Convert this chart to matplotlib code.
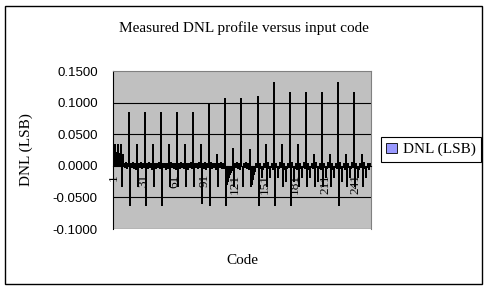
'''
Perfil DNL medido contra el código de entrada (gráfica estilo Excel)
'''
import matplotlib
matplotlib.use("Agg")
import matplotlib.pyplot as plt
from matplotlib.patches import Patch, Rectangle

# valores DNL (LSB) para los códigos 1..256, en bloques de 16
dnl = [
    0.020, 0.034, 0.020, 0.022, 0.034, 0.018, 0.020, 0.034, -0.033, 0.019, 0.005, -0.004, 0.006, -0.005, 0.004, 0.085,
    -0.064, 0.005, -0.004, 0.006, -0.005, 0.004, -0.006, 0.034, -0.033, 0.005, -0.004, 0.006, -0.005, 0.004, -0.003, 0.085,
    -0.064, 0.004, -0.005, 0.006, -0.004, 0.005, -0.006, 0.034, -0.033, 0.004, -0.005, 0.005, -0.004, 0.006, -0.005, 0.085,
    -0.064, 0.005, -0.004, 0.005, -0.006, 0.004, -0.005, 0.034, -0.033, 0.006, -0.004, 0.005, -0.005, 0.004, -0.006, 0.085,
    -0.033, 0.004, -0.005, 0.006, -0.004, 0.005, -0.005, 0.034, -0.033, 0.005, -0.006, 0.004, -0.004, 0.006, -0.005, 0.085,
    -0.033, 0.005, -0.004, 0.004, -0.005, 0.006, -0.004, 0.034, -0.060, 0.004, -0.005, 0.006, -0.006, 0.005, -0.004, 0.100,
    -0.064, 0.006, -0.005, 0.004, -0.004, 0.005, -0.006, 0.019, -0.033, 0.005, -0.004, 0.006, -0.005, 0.004, -0.005, 0.108,
    -0.064, -0.030, -0.025, -0.020, -0.015, -0.011, -0.008, 0.028, -0.033, 0.005, -0.004, 0.006, -0.005, 0.004, -0.006, 0.108,
    -0.033, 0.005, -0.004, 0.006, -0.005, 0.004, -0.006, 0.026, -0.033, -0.030, -0.022, -0.015, -0.010, 0.005, -0.004, 0.110,
    -0.064, 0.004, -0.005, -0.020, -0.006, 0.005, -0.004, 0.034, -0.033, 0.006, -0.005, -0.020, -0.004, 0.005, -0.006, 0.133,
    -0.064, 0.005, -0.004, -0.020, -0.005, 0.006, -0.004, 0.034, -0.033, 0.004, -0.006, -0.025, -0.005, 0.004, -0.004, 0.117,
    -0.064, 0.006, -0.004, -0.025, -0.005, 0.004, -0.006, 0.034, -0.033, 0.005, -0.005, -0.020, -0.004, 0.006, -0.005, 0.117,
    -0.033, 0.004, -0.006, -0.020, -0.004, 0.005, -0.005, 0.019, -0.033, 0.006, -0.004, -0.025, -0.005, 0.004, -0.006, 0.117,
    -0.033, 0.005, -0.004, -0.020, -0.005, 0.006, -0.004, 0.019, -0.033, 0.004, -0.006, -0.020, -0.004, 0.005, -0.005, 0.133,
    -0.064, 0.006, -0.005, -0.025, -0.004, 0.004, -0.006, 0.019, -0.033, 0.005, -0.004, -0.020, -0.005, 0.006, -0.004, 0.117,
    -0.033, 0.004, -0.005, -0.020, -0.006, 0.005, -0.004, 0.019, -0.033, 0.006, -0.005, -0.020, -0.004, 0.005, -0.006, 0.005,
]
codigos = list(range(1, len(dnl) + 1))
ticks_x = [1, 31, 61, 91, 121, 151, 181, 211, 241]
ticks_y = [-0.10, -0.05, 0.0, 0.05, 0.10, 0.15]

serif = 'Liberation Serif'
sans = 'Liberation Sans'

fig = plt.figure(figsize=(4.88, 2.90), dpi=100)
ax = fig.add_axes([113/488, 1-229/290, 258/488, 158/290])
ax.set_facecolor('#C0C0C0')
ax.set_axisbelow(False)

for g in [-0.10, -0.05, 0.05, 0.10]:
    ax.axhline(g, color='black', lw=0.8, zorder=1)

# barras de 1 código de ancho; con el borde quedan de unos 2 px como en Excel
ax.vlines(codigos, 0, dnl, colors='black', lw=1.15, antialiased=False,
          capstyle='butt', zorder=2)

ax.set_xlim(0.5, 256.5)
ax.set_ylim(-0.10, 0.15)

ax.spines['bottom'].set_position(('data', 0))
ax.spines['bottom'].set_color('black')
ax.spines['left'].set_color('black')
ax.spines['top'].set_color('#808080')
ax.spines['right'].set_color('#808080')

ax.set_xticks(ticks_x)
ax.set_xticklabels([str(t) for t in ticks_x], rotation=90, family=serif, fontsize=9.5)
ax.tick_params(axis='x', length=0, pad=6)
ax.set_yticks(ticks_y)
ax.set_yticklabels([f'{t:.4f}' for t in ticks_y], family=sans, fontsize=9.5)
ax.tick_params(axis='y', length=0, pad=11)

ax.set_ylabel('DNL (LSB)', family=serif, fontsize=11)
ax.yaxis.set_label_coords(-0.31, 0.5)

fig.text(244/488, 1-28/290, 'Measured DNL profile versus input code',
         ha='center', va='center', family=serif, fontsize=11)
fig.text(242/488, 1-260/290, 'Code', ha='center', va='center', family=serif, fontsize=11)

leg = fig.legend(handles=[Patch(facecolor='#9999FF', edgecolor='black', lw=0.6, label='DNL (LSB)')],
                 loc='center left', bbox_to_anchor=(381/488, 1-149.5/290),
                 prop={'family': serif, 'size': 11}, fancybox=False, framealpha=1,
                 edgecolor='black', handlelength=0.7, handleheight=0.7, handletextpad=0.4,
                 borderpad=0.35, borderaxespad=0)
leg.get_frame().set_linewidth(0.8)

fig.patches.append(Rectangle((5/488, 6/290), 477/488, 278/290, transform=fig.transFigure,
                             fill=False, edgecolor='black', lw=1))

fig.savefig('out.png', dpi=100)
